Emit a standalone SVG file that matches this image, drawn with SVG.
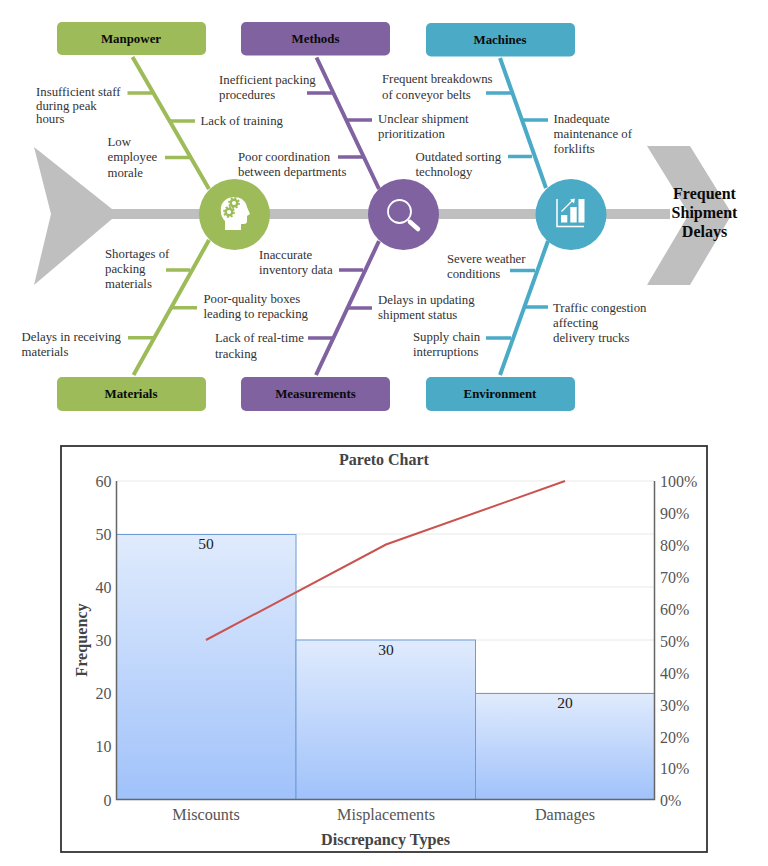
<svg xmlns="http://www.w3.org/2000/svg" width="768" height="866" viewBox="0 0 768 866">
<defs>
<linearGradient id="barGrad" x1="0" y1="0" x2="0" y2="1"><stop offset="0" stop-color="#e0ebfd"/><stop offset="1" stop-color="#a0c2fa"/></linearGradient>
</defs>
<style>
text{font-family:"Liberation Serif","Times New Roman",serif}
.t{font-size:12.8px;fill:#333}
.h{font-size:12.900px;font-weight:bold;fill:#0a0a0a;text-anchor:middle}
.g{stroke:#9dbb58;fill:none}
.p{stroke:#8062a1;fill:none}
.b{stroke:#4babc7;fill:none}
.bone{stroke-width:4}
.twig{stroke-width:3.6}
.ax{font-size:16px;fill:#555}
.grid{stroke:#e8e8e8;stroke-width:1}
.bar{fill:url(#barGrad);stroke:#6f9bd6;stroke-width:1}
.val{font-size:15.500px;fill:#222;text-anchor:middle}
.cat{font-size:16.200px;fill:#555;text-anchor:middle}
.atitle{font-size:16.200px;font-weight:bold;fill:#444;text-anchor:middle}
</style>
<g id="spine">
<polygon points="34,147 112,209 670,209 670,219 112,219 34,285 51,214" fill="#bfbfbf"/>
</g>
<g id="head-effect">
<polygon points="647,146 690,146 732,214 690,285 647,285 689,214" fill="#bfbfbf"/>
<text x="704.500" y="199" font-size="16" font-weight="bold" fill="#0a0a0a" text-anchor="middle">Frequent</text>
<text x="704.500" y="218" font-size="16" font-weight="bold" fill="#0a0a0a" text-anchor="middle">Shipment</text>
<text x="704.500" y="237" font-size="16" font-weight="bold" fill="#0a0a0a" text-anchor="middle">Delays</text>
</g>
<g id="connectors">
<path class="g bone" d="M132.500 57L209 189M133.500 375L209 240"/>
<path class="g twig" d="M127.500 93H152M170 121H195M165 157.500H190M166 270H190M172 307.700H197M128 337.700H153"/>
<path class="p bone" d="M316.500 57.500L379 189M316 375L379 241"/>
<path class="p twig" d="M307 93H332M347 120H372M338 157H363M339 270H363M348 308H372M308 338H333"/>
<path class="b bone" d="M500 58L546 188M500 375L548 241"/>
<path class="b twig" d="M486 93H511M523 120H548M508 156.500H532M510 270.500H535M524 307H548M486 338H511"/>
</g>
<g id="manpower"><rect x="57" y="22" width="149" height="33" rx="5" fill="#9dbb58"/><text class="h" x="131" y="43">Manpower</text></g>
<g id="methods"><rect x="241" y="22" width="149" height="33.500" rx="5" fill="#8062a1"/><text class="h" x="315.500" y="43">Methods</text></g>
<g id="machines"><rect x="426" y="23" width="149" height="33.500" rx="5" fill="#4babc7"/><text class="h" x="500" y="44">Machines</text></g>
<g id="materials"><rect x="57" y="377" width="149" height="34" rx="5" fill="#9dbb58"/><text class="h" x="131" y="398">Materials</text></g>
<g id="measurements"><rect x="241" y="377" width="149" height="34" rx="5" fill="#8062a1"/><text class="h" x="315.500" y="398">Measurements</text></g>
<g id="environment"><rect x="426" y="377" width="149" height="34" rx="5" fill="#4babc7"/><text class="h" x="500" y="398">Environment</text></g>
<g id="circle-people">
<circle cx="234.500" cy="214.500" r="35.500" fill="#9dbb58"/>
<path d="M225 230V221C221 217 220.500 212 221 207C222 201 228 197 234 197C241 197 246 201 247 207L250 214L247 216V221C247 224 245 224 241 224V230Z" fill="#fff"/>
<circle cx="234" cy="203" r="3.300" fill="none" stroke="#9dbb58" stroke-width="2.400"/>
<circle cx="234" cy="203" r="5" fill="none" stroke="#9dbb58" stroke-width="1.800" stroke-dasharray="2 1.900"/>
<circle cx="229" cy="212" r="3.300" fill="none" stroke="#9dbb58" stroke-width="2.400"/>
<circle cx="229" cy="212" r="5" fill="none" stroke="#9dbb58" stroke-width="1.800" stroke-dasharray="2 1.900"/>
</g>
<g id="circle-search">
<circle cx="403.500" cy="214.500" r="35.500" fill="#8062a1"/>
<circle cx="399.500" cy="211.500" r="11.500" fill="none" stroke="#fff" stroke-width="1.800"/>
<path d="M408 220L410 222" stroke="#fff" stroke-width="2"/>
<path d="M410 222L418 229" stroke="#fff" stroke-width="4.500" stroke-linecap="round"/>
</g>
<g id="circle-chart">
<circle cx="571" cy="214.500" r="35.500" fill="#4babc7"/>
<path d="M557 199V226.500H584" fill="none" stroke="#fff" stroke-width="1.500"/>
<rect x="561" y="215" width="6.300" height="7.500" fill="#fff"/>
<rect x="570.300" y="207" width="6.400" height="15.500" fill="#fff"/>
<rect x="578.500" y="199" width="6" height="23.500" fill="#fff"/>
<path d="M561.500 211.500L573 200" fill="none" stroke="#fff" stroke-width="1.200"/>
<path d="M570 199.500L575 198.500L574 203.500Z" fill="#fff"/>
</g>
<g id="labels">
<text class="t" x="36" y="96">Insufficient staff</text><text class="t" x="36" y="109.500">during peak</text><text class="t" x="36" y="123">hours</text>
<text class="t" x="200.500" y="125">Lack of training</text>
<text class="t" x="107.500" y="146">Low</text><text class="t" x="107.500" y="161">employee</text><text class="t" x="107.500" y="177">morale</text>
<text class="t" x="219" y="84">Inefficient packing</text><text class="t" x="219" y="99">procedures</text>
<text class="t" x="378" y="123">Unclear shipment</text><text class="t" x="378" y="138">prioritization</text>
<text class="t" x="238" y="161">Poor coordination</text><text class="t" x="238" y="176">between departments</text>
<text class="t" x="382" y="83">Frequent breakdowns</text><text class="t" x="382" y="99">of conveyor belts</text>
<text class="t" x="553.500" y="123">Inadequate</text><text class="t" x="553.500" y="138">maintenance of</text><text class="t" x="553.500" y="153">forklifts</text>
<text class="t" x="415.500" y="161">Outdated sorting</text><text class="t" x="415.500" y="176">technology</text>
<text class="t" x="105" y="258">Shortages of</text><text class="t" x="105" y="273">packing</text><text class="t" x="105" y="288">materials</text>
<text class="t" x="203.500" y="303">Poor-quality boxes</text><text class="t" x="203.500" y="318">leading to repacking</text>
<text class="t" x="21.500" y="341">Delays in receiving</text><text class="t" x="21.500" y="356">materials</text>
<text class="t" x="259" y="259">Inaccurate</text><text class="t" x="259" y="274">inventory data</text>
<text class="t" x="378" y="304">Delays in updating</text><text class="t" x="378" y="319">shipment status</text>
<text class="t" x="215" y="342">Lack of real-time</text><text class="t" x="215" y="358">tracking</text>
<text class="t" x="447" y="263">Severe weather</text><text class="t" x="447" y="278">conditions</text>
<text class="t" x="553" y="312">Traffic congestion</text><text class="t" x="553" y="327">affecting</text><text class="t" x="553" y="342">delivery trucks</text>
<text class="t" x="413" y="341">Supply chain</text><text class="t" x="413" y="356">interruptions</text>
</g>
<g id="pareto-chart">
<rect x="61" y="446" width="646" height="406" fill="#fff" stroke="#333" stroke-width="1.800"/>
<text x="384" y="465" font-size="16" font-weight="bold" fill="#444" text-anchor="middle">Pareto Chart</text>
<path class="grid" d="M117 481H654M117 534H654M117 587H654M117 640H654M117 693H654M117 746H654"/>
<rect class="bar" x="116.500" y="534.500" width="179.500" height="265"/>
<rect class="bar" x="296" y="640" width="179.500" height="159.500"/>
<rect class="bar" x="475.500" y="693.500" width="179" height="106"/>
<path d="M116.500 481V799.500H654.500V481" fill="none" stroke="#666" stroke-width="1.500"/>
<polyline points="206,640 386,544.500 565,481" fill="none" stroke="#c9534f" stroke-width="2"/>
<g class="ax" text-anchor="end">
<text x="111.500" y="486.500">60</text><text x="111.500" y="540">50</text><text x="111.500" y="593">40</text><text x="111.500" y="646">30</text><text x="111.500" y="699">20</text><text x="111.500" y="752">10</text><text x="111.500" y="805.500">0</text>
</g>
<g class="ax">
<text x="660" y="487">100%</text><text x="660" y="519">90%</text><text x="660" y="551">80%</text><text x="660" y="583">70%</text><text x="660" y="615">60%</text><text x="660" y="647">50%</text><text x="660" y="679">40%</text><text x="660" y="710.500">30%</text><text x="660" y="742.500">20%</text><text x="660" y="774">10%</text><text x="660" y="806">0%</text>
</g>
<text class="val" x="206" y="549">50</text><text class="val" x="386" y="655">30</text><text class="val" x="565" y="708">20</text>
<text class="cat" x="206" y="820">Miscounts</text><text class="cat" x="386" y="820">Misplacements</text><text class="cat" x="565" y="820">Damages</text>
<text class="atitle" x="385.500" y="845">Discrepancy Types</text>
<text class="atitle" transform="translate(86.500 640) rotate(-90)">Frequency</text>
</g>
</svg>
